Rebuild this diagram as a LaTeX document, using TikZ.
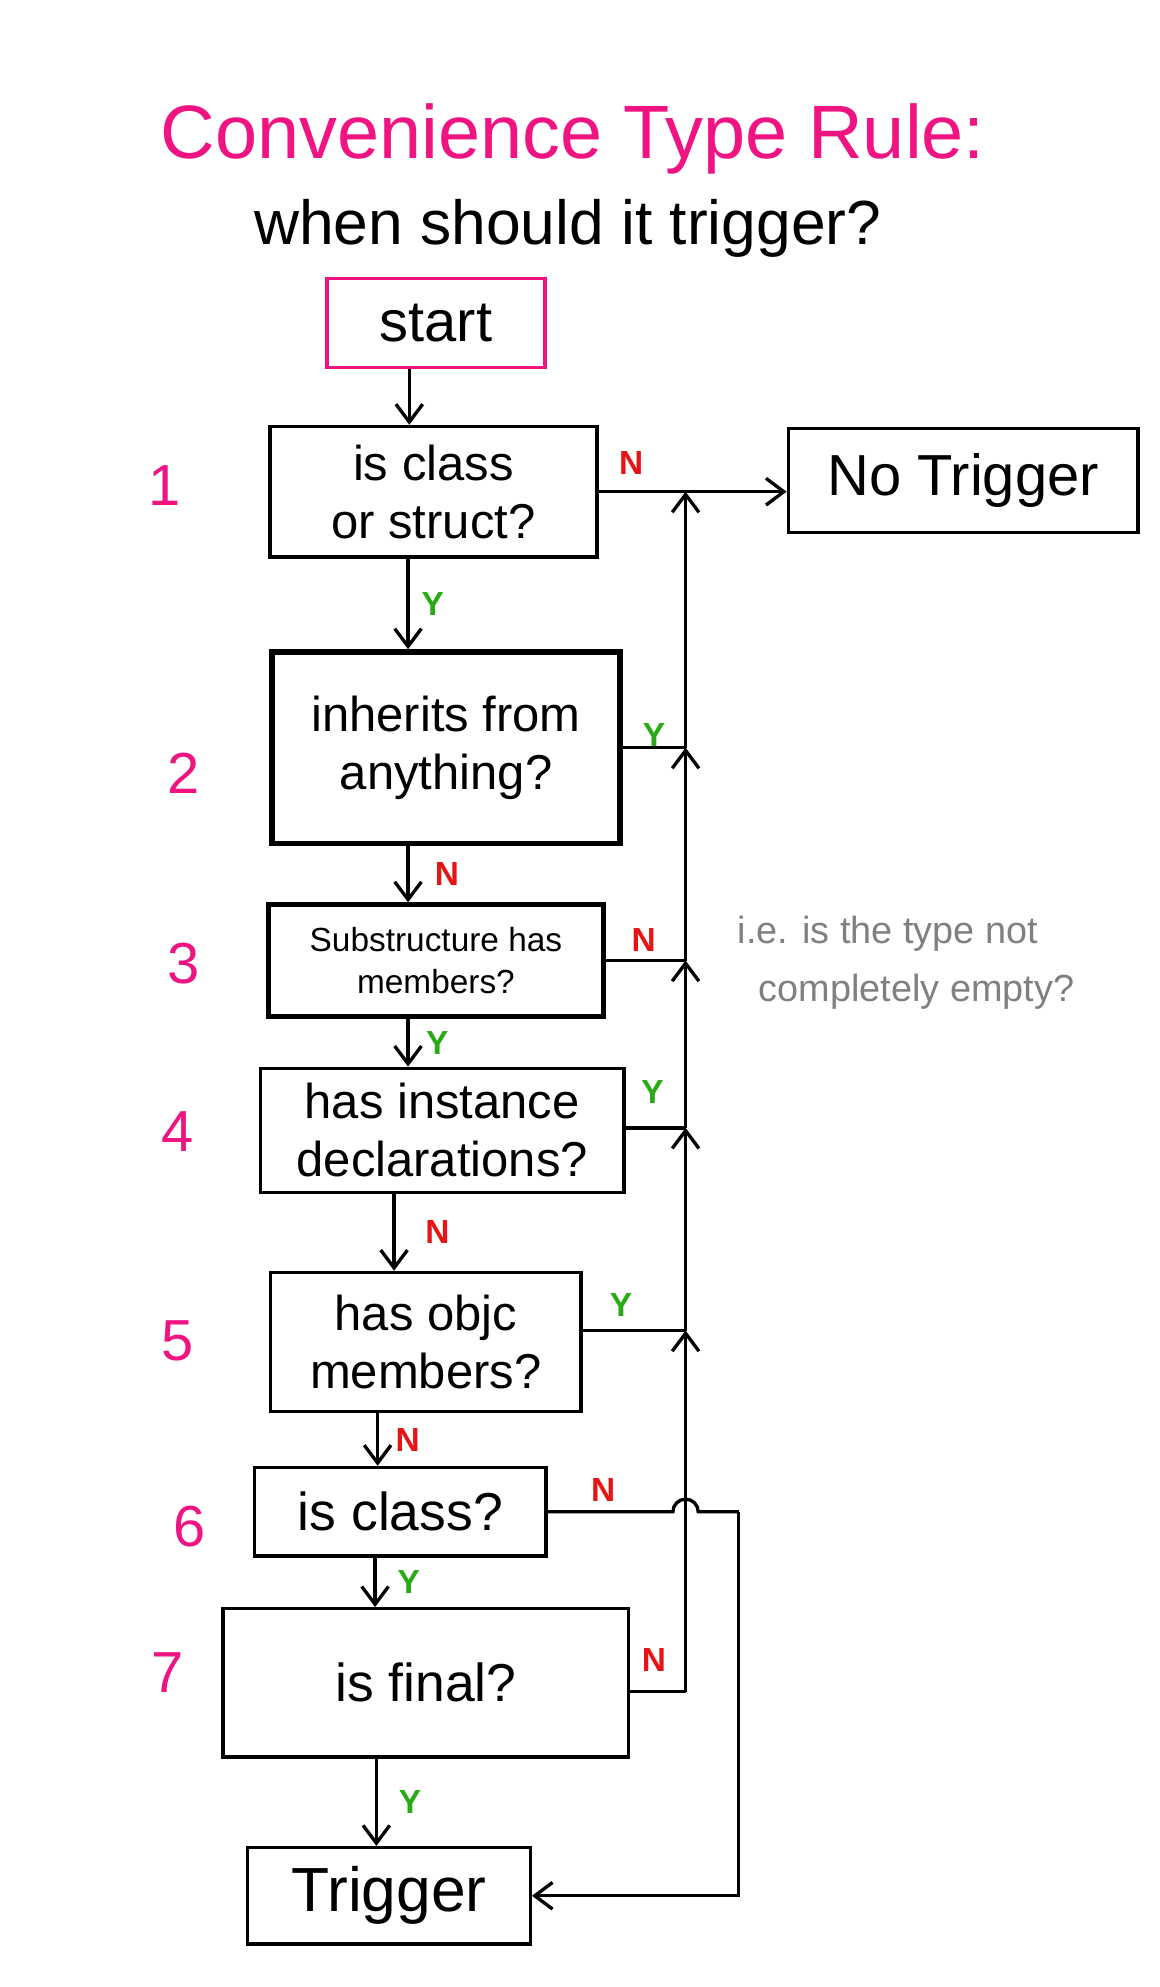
\documentclass[tikz,border=0pt]{standalone}
\usepackage{fontspec}
\setmainfont{Liberation Sans}
\usetikzlibrary{arrows.meta,calc}
\definecolor{mag}{RGB}{240,20,130}
\definecolor{nred}{RGB}{230,20,20}
\definecolor{ygreen}{RGB}{40,170,20}
\begin{document}
\begin{tikzpicture}[x=0.02cm,y=-0.02cm,
  box/.style={draw,line width=1.5pt,inner sep=0pt,font=\fontsize{22}{26}\selectfont,align=center},
  ln/.style={line width=1.5pt},
  arr/.style={ln,-{Straight Barb[length=8pt,width=12pt]}},
  num/.style={text=mag,font=\fontsize{26}{30}\selectfont},
  lN/.style={text=nred,font=\bfseries\fontsize{15}{18}\selectfont},
  lY/.style={text=ygreen,font=\bfseries\fontsize{15}{18}\selectfont}]
\useasboundingbox (0,0) rectangle (915,1568);
\node[text=mag,font=\fontsize{34}{40}\selectfont] (title) at (452,110) {Convenience Type Rule:};
\node[font=\fontsize{28}{34}\selectfont] (sub) at (448,180) {when should it trigger?};
\node[box,draw=mag,minimum width=3.44cm,minimum height=1.4cm,font=\fontsize{26}{30}\selectfont] (start) at (344,255) {start};
\node[box,minimum width=5.16cm,minimum height=2.06cm] (b1) at (342,388) {is class\\or struct?};
\node[box,minimum width=5.52cm,minimum height=1.64cm,font=\fontsize{26}{30}\selectfont] (nt) at (760,379) {No Trigger};
\node[box,line width=2.5pt,minimum width=5.5cm,minimum height=3.02cm] (b2) at (352,590) {inherits from\\anything?};
\node[box,line width=2.2pt,minimum width=5.3cm,minimum height=1.76cm,font=\fontsize{15}{19}\selectfont] (b3) at (344,758) {Substructure has\\members?};
\node[box,minimum width=5.74cm,minimum height=1.96cm] (b4) at (349,892) {has instance\\declarations?};
\node[box,minimum width=4.9cm,minimum height=2.2cm] (b5) at (336,1059) {has objc\\members?};
\node[box,minimum width=4.6cm,minimum height=1.4cm,font=\fontsize{24}{28}\selectfont] (b6) at (316,1193) {is class?};
\node[box,minimum width=6.4cm,minimum height=2.34cm,font=\fontsize{24}{28}\selectfont] (b7) at (336,1328) {is final?};
\node[box,minimum width=4.46cm,minimum height=1.52cm,font=\fontsize{28}{32}\selectfont] (tr) at (307,1496) {Trigger};
\node[num] (n1) at (130,383) {1};
\node[num] (n2) at (145,610) {2};
\node[num] (n3) at (145,760) {3};
\node[num] (n4) at (140,893) {4};
\node[num] (n5) at (140,1058) {5};
\node[num] (n6) at (150,1205) {6};
\node[num] (n7) at (132,1320) {7};
\node[text=gray,font=\fontsize{17}{26}\selectfont,align=left] (note) at (715,760) {i.e. is the type not\\\ \ completely empty?};
% down arrows
\draw[arr] (start.south -| 323,0) -- (b1.north -| 323,0);
\draw[arr] (b1.south -| 322,0) -- (b2.north -| 322,0) node[lY,midway,right=2pt] {Y};
\draw[arr] (b2.south -| 322,0) -- (b3.north -| 322,0) node[lN,midway,right=8pt] {N};
\draw[arr] (b3.south -| 322,0) -- (b4.north -| 322,0) node[lY,midway,right=4pt] {Y};
\draw[arr] (b4.south -| 311,0) -- (b5.north -| 311,0) node[lN,midway,right=10pt] {N};
\draw[arr] (b5.south -| 298,0) -- (b6.north -| 298,0) node[lN,midway,right=4pt] {N};
\draw[arr] (b6.south -| 296,0) -- (b7.north -| 296,0) node[lY,midway,right=6pt] {Y};
\draw[arr] (b7.south -| 297,0) -- (tr.north -| 297,0) node[lY,midway,right=6pt] {Y};
% right spine
\coordinate (s7) at (541,1335);
\coordinate (s5) at (541,1050);
\coordinate (s4) at (541,890);
\coordinate (s3) at (541,758);
\coordinate (s2) at (541,590);
\coordinate (s1) at (541,388);
\draw[ln] (b7.east |- s7) -- (s7);
\draw[arr] (s7) -- (s5);
\draw[arr] (s5) -- (s4);
\draw[arr] (s4) -- (s3);
\draw[arr] (s3) -- (s2);
\draw[arr] (s2) -- (s1);
\draw[arr] (b1.east |- s1) -- (nt.west |- s1);
\draw[ln] (b2.east |- s2) -- (s2);
\draw[ln] (b3.east |- s3) -- (s3);
\draw[ln] (b4.east |- s4) -- (s4);
\draw[ln] (b5.east |- s5) -- (s5);
\node[lN] at (498,365) {N};
\node[lY] at (516,580) {Y};
\node[lN] at (508,742) {N};
\node[lY] at (515,862) {Y};
\node[lY] at (490,1030) {Y};
\node[lN] at (476,1176) {N};
\node[lN] at (516,1310) {N};
% is class N branch with hop
\coordinate (h) at (583,1193);
\draw[ln] (b6.east) -- (531,1193) arc (180:360:10) -- (h);
\draw[arr] (h) |- (tr.east);
\end{tikzpicture}
\end{document}
